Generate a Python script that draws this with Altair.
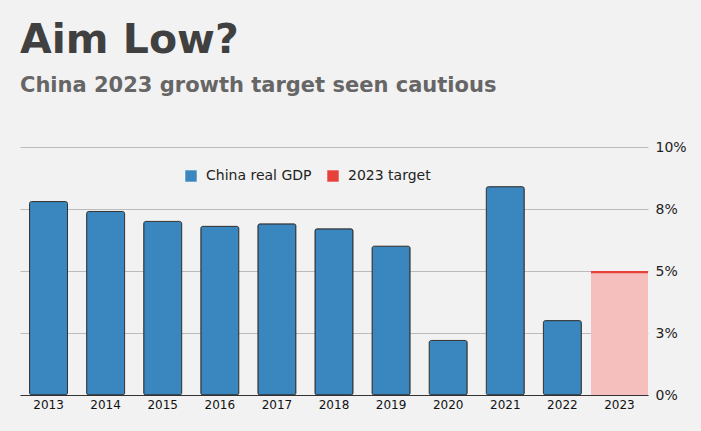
import altair as alt
import pandas as pd

years = ["2013", "2014", "2015", "2016", "2017", "2018", "2019", "2020", "2021", "2022", "2023"]
gdp_growth = [7.8, 7.4, 7.0, 6.8, 6.9, 6.7, 6.0, 2.2, 8.4, 3.0]
target_2023 = 5.0

series_names = ["China real GDP", "2023 target"]
series_colors = ["#3a87c0", "#e8413b"]

gdp_df = pd.DataFrame({"year": years[:-1], "value": gdp_growth, "series": series_names[0]})
target_df = pd.DataFrame({"year": [years[-1]], "value": [target_2023], "series": [series_names[1]]})

FONT = "DejaVu Sans"

x_enc = alt.X(
    "year:N",
    sort=years,
    scale=alt.Scale(domain=years, paddingInner=0.335, paddingOuter=0.167),
    axis=alt.Axis(
        title=None, labelAngle=0, labelAlign="center", bandPosition=0.5,
        ticks=False, domain=True, domainColor="#333333",
        domainWidth=1.2, labelFontSize=12, labelColor="#111111", labelPadding=9,
        labelFont=FONT, grid=False,
    ),
)
y_scale = alt.Scale(domain=[0, 10], nice=False)
y_axis = alt.Axis(
    orient="right", title=None, values=[0, 2.5, 5, 7.5, 10],
    labelExpr="format(datum.value, '.0f') + '%'",
    ticks=False, domain=False, grid=True, gridColor="#bbbbbb", gridWidth=1,
    labelFontSize=14, labelColor="#222222", labelPadding=7, labelFont=FONT,
)

gdp_bars = alt.Chart(gdp_df).mark_bar(
    stroke="#333333", strokeWidth=1, cornerRadius=2
).encode(
    x=x_enc,
    y=alt.Y("value:Q", scale=y_scale, axis=y_axis),
    color=alt.Color(
        "series:N",
        scale=alt.Scale(domain=series_names, range=series_colors),
        legend=alt.Legend(
            title=None, orient="none", legendX=164, legendY=22, direction="horizontal",
            symbolType="square", symbolSize=130, symbolStrokeWidth=0, symbolOpacity=1,
            labelFontSize=14, labelColor="#222222", labelFont=FONT, labelOffset=8,
            columnPadding=14, symbolOffset=0,
        ),
    ),
)

# target year spans the whole band step (bar width / (1 - paddingInner))
target_fill = alt.Chart(target_df).mark_bar(
    fill="#f4bfbd", width=alt.RelativeBandSize(1.5)
).encode(
    x=alt.X("year:N", sort=years),
    y=alt.Y("value:Q"),
)

target_line = alt.Chart(target_df).transform_calculate(
    lo="datum.value - 0.09"
).mark_bar(
    fill="#e8413b", width=alt.RelativeBandSize(1.5)
).encode(
    x=alt.X("year:N", sort=years),
    y=alt.Y("value:Q"),
    y2="lo:Q",
)

chart = alt.layer(target_fill, target_line, gdp_bars).properties(
    width=628,
    height=248,
    autosize=alt.AutoSizeParams(type="none"),
    padding={"left": 20, "top": 147, "right": 53, "bottom": 36},
    background="#f2f2f2",
    title=alt.TitleParams(
        text="Aim Low?",
        subtitle="China 2023 growth target seen cautious",
        anchor="start", frame="group", orient="top",
        font=FONT, fontSize=41, fontWeight="bold", color="#404040",
        subtitleFont=FONT, subtitleFontSize=21, subtitleFontWeight="bold",
        subtitleColor="#666666", subtitlePadding=13, offset=43,
    ),
).configure_view(stroke=None)

chart.save("out.html", embed_options={"renderer": "svg", "actions": False})
